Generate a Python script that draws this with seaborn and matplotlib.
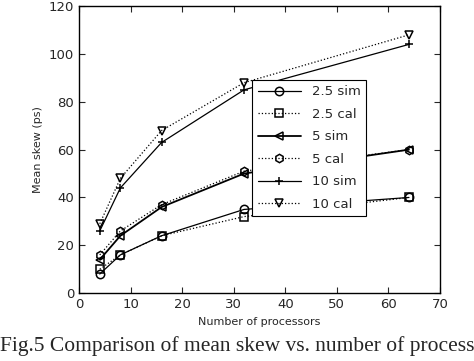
import numpy as np
import pandas as pd
import matplotlib
matplotlib.use("Agg")
import matplotlib.pyplot as plt
import seaborn as sns

# number of processors on the x axis
processors = [4, 8, 16, 32, 64]

# mean skew values (ps)
sim_25 = [8, 16, 24, 35, 40]
cal_25 = [10, 16, 24, 32, 40]
sim_5 = [14, 24, 36, 50, 60]
cal_5 = [16, 26, 37, 51, 60]
sim_10 = [26, 44, 63, 85, 104]
cal_10 = [29, 48, 68, 88, 108]

labels = ["2.5 sim", "2.5 cal", "5 sim", "5 cal", "10 sim", "10 cal"]
values = [sim_25, cal_25, sim_5, cal_5, sim_10, cal_10]
markers = ["o", "s", "<", "h", "+", "v"]
styles = ["-", ":", "-", ":", "-", ":"]
widths = [0.9, 0.9, 1.3, 0.9, 0.9, 0.9]

sns.set_style("ticks")
plt.rcParams["font.family"] = ["DejaVu Sans"]

fig = plt.figure(figsize=(4.74, 3.61), dpi=100)
ax = fig.add_axes([0.167, 0.188, 0.761, 0.795])

for lab, vals, mk, ls, lw in zip(labels, values, markers, styles, widths):
    df = pd.DataFrame({"n": processors, "skew": vals})
    sns.lineplot(data=df, x="n", y="skew", ax=ax, color="black", linestyle=ls,
                 linewidth=lw, marker=mk, markersize=6, markerfacecolor="none",
                 markeredgecolor="black", markeredgewidth=1.1, label=lab)

ax.set_xlim(0, 70)
ax.set_ylim(0, 120)
ax.set_xticks(range(0, 71, 10))
ax.set_yticks(range(0, 121, 20))
ax.tick_params(direction="in", top=True, right=True, labelsize=9.5, length=4, width=0.8)
for s in ax.spines.values():
    s.set_visible(True)
    s.set_linewidth(1.0)
    s.set_color("black")
ax.set_xlabel("Number of processors", fontsize=8)
ax.set_ylabel("Mean skew (ps)", fontsize=8)

leg = ax.legend(loc="upper left", bbox_to_anchor=(0.48, 0.742), borderaxespad=0,
                fancybox=False, framealpha=1, edgecolor="black", fontsize=9.5,
                handlelength=3.3, labelspacing=0.72, borderpad=0.4)
leg.get_frame().set_linewidth(0.8)

fig.text(0.0, 0.015, "Fig.5 Comparison of mean skew vs. number of processors",
         family="Liberation Serif", fontsize=15.5, ha="left", va="bottom")

fig.savefig("out.png", dpi=100)
